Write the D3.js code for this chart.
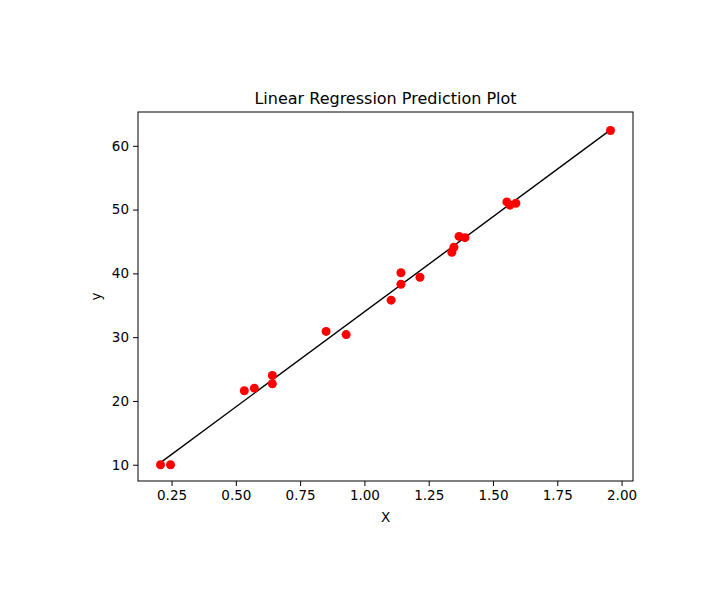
<!DOCTYPE html>
<html>
<head>
<meta charset="utf-8">
<script src="https://cdn.jsdelivr.net/npm/d3@7"></script>
<style>
body { margin: 0; background: #fff; }
text { font-family: "DejaVu Sans", sans-serif; }
</style>
</head>
<body>
<div id="chart"></div>
<script>
const xVals = [0.207, 0.246, 0.533, 0.572, 0.642, 0.642, 0.851, 0.929, 1.104, 1.142,
               1.142, 1.216, 1.340, 1.348, 1.368, 1.391, 1.554, 1.566, 1.589, 1.957];
const yVals = [10.0, 10.0, 21.6, 22.0, 24.0, 22.7, 30.9, 30.4, 35.8, 40.1,
               38.3, 39.4, 43.3, 44.1, 45.8, 45.6, 51.2, 50.7, 51.0, 62.4];
const xTicks = [0.25, 0.50, 0.75, 1.00, 1.25, 1.50, 1.75, 2.00];
const yTicks = [10, 20, 30, 40, 50, 60];

const width = 727, height = 615;
const pLeft = 138, pRight = 633, pTop = 112, pBottom = 481;

const svg = d3.select("#chart").append("svg")
  .attr("width", width).attr("height", height);

const x = d3.scaleLinear().domain([0.1195, 2.0445]).range([pLeft, pRight]);
const y = d3.scaleLinear().domain([7.45, 65.3]).range([pBottom, pTop]);

// least squares fit for the prediction line
const mx = d3.mean(xVals), my = d3.mean(yVals);
const b = d3.sum(xVals, (v, i) => (v - mx) * (yVals[i] - my)) / d3.sum(xVals, v => (v - mx) ** 2);
const a = my - b * mx;
const ext = d3.extent(xVals);

svg.append("line")
  .attr("x1", x(ext[0])).attr("y1", y(a + b * ext[0]))
  .attr("x2", x(ext[1])).attr("y2", y(a + b * ext[1]))
  .style("stroke", "black").style("stroke-width", 1.4);

svg.selectAll("circle").data(xVals).enter().append("circle")
  .attr("cx", d => x(d))
  .attr("cy", (d, i) => y(yVals[i]))
  .attr("r", 4.5)
  .attr("fill", "red");

svg.append("rect")
  .attr("x", pLeft).attr("y", pTop)
  .attr("width", pRight - pLeft).attr("height", pBottom - pTop)
  .attr("fill", "none").style("stroke", "black").style("stroke-width", 1);

const xAxis = svg.append("g").attr("transform", `translate(0,${pBottom})`)
  .call(d3.axisBottom(x).tickValues(xTicks).tickFormat(d3.format(".2f")).tickSize(5).tickPadding(4));
const yAxis = svg.append("g").attr("transform", `translate(${pLeft},0)`)
  .call(d3.axisLeft(y).tickValues(yTicks).tickSize(5).tickPadding(4));
[xAxis, yAxis].forEach(g => {
  g.select(".domain").remove();
  g.selectAll("text").style("font-size", "13.5px").style("font-family", "DejaVu Sans").attr("fill", "black");
});

svg.append("text").attr("x", (pLeft + pRight) / 2).attr("y", pTop - 8)
  .attr("text-anchor", "middle").style("font-size", "16px").text("Linear Regression Prediction Plot");
svg.append("text").attr("x", (pLeft + pRight) / 2).attr("y", 522)
  .attr("text-anchor", "middle").style("font-size", "13.5px").text("X");
svg.append("text").attr("transform", `translate(101,${(pTop + pBottom) / 2}) rotate(-90)`)
  .attr("text-anchor", "middle").style("font-size", "13.5px").text("y");
</script>
</body>
</html>
